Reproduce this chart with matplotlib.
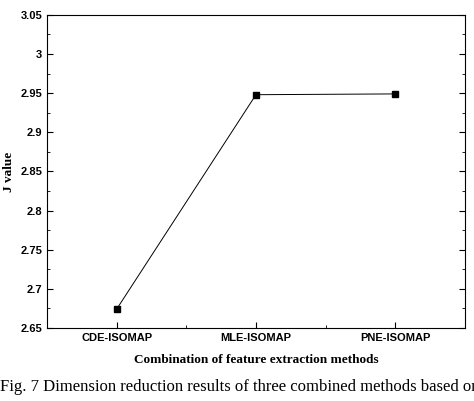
import matplotlib
matplotlib.use("Agg")
import matplotlib.pyplot as plt
from matplotlib.ticker import MultipleLocator

categories = ["CDE-ISOMAP", "MLE-ISOMAP", "PNE-ISOMAP"]
j_values = [2.674, 2.948, 2.949]

fig = plt.figure(figsize=(4.74, 4.01), dpi=100)
ax = fig.add_axes([0.099, 0.182, 0.882, 0.781])
x = list(range(1, len(categories) + 1))
ax.plot(x, j_values, color="black", lw=0.7, marker="s", ms=5, mfc="black")
ax.set_xlim(0.5, 3.5)
ax.set_ylim(2.65, 3.05)
ax.set_xticks(x)
ax.set_xticklabels(categories, fontsize=8, fontweight="bold", family="Liberation Sans")
ax.yaxis.set_minor_locator(MultipleLocator(0.025))
ax.xaxis.set_minor_locator(MultipleLocator(0.5))
ax.set_yticks([2.65, 2.7, 2.75, 2.8, 2.85, 2.9, 2.95, 3.0, 3.05])
ax.set_yticklabels(["2.65", "2.7", "2.75", "2.8", "2.85", "2.9", "2.95", "3", "3.05"],
                   fontsize=8, fontweight="bold", family="Liberation Sans")
ax.tick_params(which="both", direction="in", right=True, top=False)
ax.tick_params(which="major", length=4)
ax.tick_params(which="minor", length=2)
ax.set_xlabel("Combination of feature extraction methods", fontsize=9.5,
              fontweight="bold", family="Liberation Serif", labelpad=8)
ax.set_ylabel("J value", fontsize=9.5, fontweight="bold", family="Liberation Serif")
fig.text(0.0, 0.015, "Fig. 7 Dimension reduction results of three combined methods based on",
         fontsize=12, family="Liberation Serif", ha="left", va="bottom")
fig.savefig("out.png", dpi=100)
